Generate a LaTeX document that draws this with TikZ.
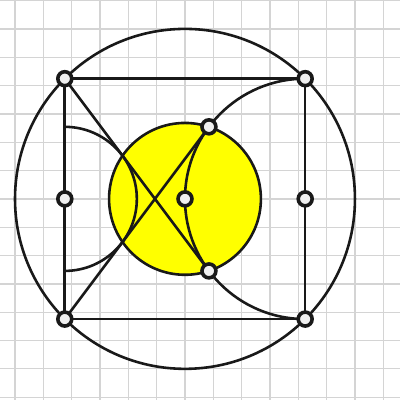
\documentclass[tikz,border=0pt]{standalone}
\definecolor{pureyellow}{RGB}{255,255,0}
\begin{document}
\begin{tikzpicture}[x=1cm,y=1cm,
  pt/.style={circle,draw=black!90,fill=black!6,line width=3.6pt,minimum size=14pt,inner sep=0pt},
  ln/.style={line width=2.6pt,draw=black!90},
  gridline/.style={draw=black!17,line width=1.3pt}]
\useasboundingbox (-6.53,-7.09) rectangle (7.59,7.02);
\begin{scope}
\clip (-6.53,-7.09) rectangle (7.59,7.02);
\draw[gridline] (-7,-8) grid (8,8);
\end{scope}
\def\a{4.243}
\def\b{2.543}
\coordinate (O) at (0,0);
\coordinate (TL) at (-\a,\a);
\coordinate (TR) at (\a,\a);
\coordinate (BL) at (-\a,-\a);
\coordinate (BR) at (\a,-\a);
\coordinate (ML) at (-\a,0);
\coordinate (MR) at (\a,0);
\coordinate (P) at (0.846,\b);
\coordinate (Q) at (0.846,-\b);
\coordinate (LA) at (-\a,\b);
% outer circle
\draw[ln] (O) circle (6);
% yellow circle
\draw[ln,fill=pureyellow] (O) circle (2.68);
% square
\draw[ln] (TL) -- (TR) -- (BR) -- (BL) -- cycle;
% diagonals to intersections
\draw[ln] (TL) -- (Q);
\draw[ln] (BL) -- (P);
% right arc
\draw[ln] (TR) arc[start angle=90,end angle=270,radius=\a];
% left arc
\draw[ln] (LA) arc[start angle=90,end angle=-90,radius=\b];
% points
\foreach \p in {TL,TR,BL,BR,ML,MR,O,P,Q}
  \node[pt] (n\p) at (\p) {};
\end{tikzpicture}
\end{document}
